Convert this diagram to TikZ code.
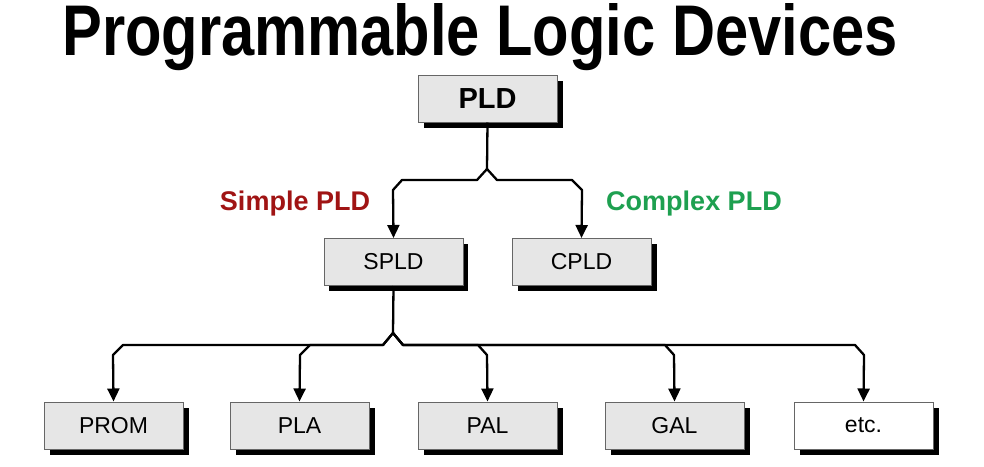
\documentclass[tikz,border=0pt]{standalone}
\usepackage{fontspec}
\setmainfont{Liberation Sans}
\usetikzlibrary{arrows.meta}
\definecolor{boxgray}{RGB}{230,230,230}
\definecolor{simred}{RGB}{160,20,20}
\definecolor{cpxgreen}{RGB}{30,160,80}
\tikzset{
  dev/.style={draw=black!60, line width=1pt, fill=boxgray, minimum width=139pt, minimum height=47pt, inner sep=0pt, font=\fontsize{23}{25}\selectfont},
  devw/.style={dev, fill=white},
  shadow/.style={fill=black},
  conn/.style={line width=2.3pt, line join=round, -{Triangle[length=13pt,width=12pt]}},
  stem/.style={line width=2.3pt},
}
\begin{document}
\begin{tikzpicture}[x=1pt,y=-1pt]
\useasboundingbox (0,0) rectangle (984,466);
\fill[white] (0,0) rectangle (984,466);
\node (title) at (480,37) {\resizebox{835pt}{52pt}{\bfseries Programmable Logic Devices}};
% shadows
\foreach \x/\y in {418/75,323/238,512/238,44/402,230/402,418/402,605/402,794/402}
  \fill[shadow] (\x+6,\y+6) rectangle (\x+145,\y+53);
\node[dev, font=\fontsize{29}{31}\selectfont\bfseries] (pld) at (487.5,98.5) {PLD};
\node[dev] (spld) at (393.5,262) {SPLD};
\node[dev] (cpld) at (581.5,262) {CPLD};
\node[dev] (prom) at (113.5,425.5) {PROM};
\node[dev] (pla) at (299.5,425.5) {PLA};
\node[dev] (pal) at (487.5,425.5) {PAL};
\node[dev] (gal) at (674.5,425.5) {GAL};
\node[devw] (etc) at (863.5,425.5) {etc.};
\coordinate (j1) at (487,169);
\coordinate (j2) at (393,333);
\draw[stem] (pld.south) -- (j1);
\draw[conn] (j1) -- (477,180) -- (402,180) -- (393,190) -- (spld.north);
\draw[conn] (j1) -- (497,180) -- (572,180) -- (582,190) -- (cpld.north);
\draw[stem] (spld.south) -- (j2);
\draw[conn] (j2) -- (383,345) -- (123,345) -- (113,355) -- (prom.north);
\draw[conn] (j2) -- (383,345) -- (310,345) -- (300,355) -- (pla.north);
\draw[conn] (j2) -- (403,345) -- (478,345) -- (487,355) -- (pal.north);
\draw[conn] (j2) -- (403,345) -- (665,345) -- (674,355) -- (gal.north);
\draw[conn] (j2) -- (403,345) -- (855,345) -- (864,355) -- (etc.north);
\node[text=simred, font=\fontsize{27}{29}\selectfont\bfseries] (sl) at (295,204) {Simple PLD};
\node[text=cpxgreen, font=\fontsize{27}{29}\selectfont\bfseries] (cl) at (694,204) {Complex PLD};
\end{tikzpicture}
\end{document}
